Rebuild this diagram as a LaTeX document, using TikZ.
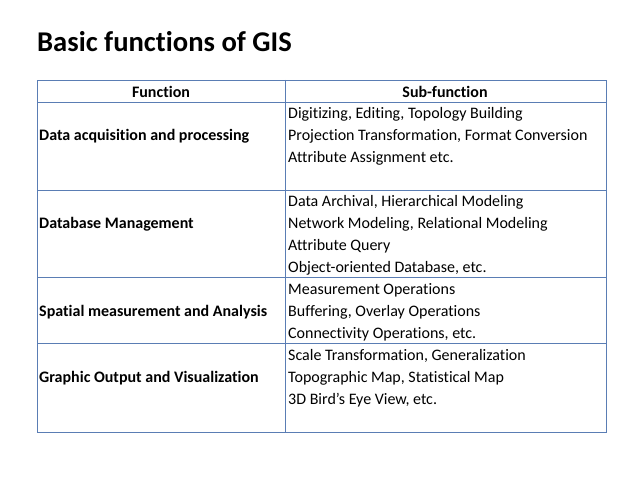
\documentclass[tikz,border=0pt]{standalone}
\usepackage{fontspec}
\setmainfont{Carlito}[Ligatures={NoCommon}]
\begin{document}
\begin{tikzpicture}[x=1pt,y=-1pt,
  cell/.style={anchor=west,inner sep=0pt,font=\fontsize{16}{18}\selectfont},
  fn/.style={cell,font=\fontsize{16}{18}\selectfont\bfseries},
  grid/.style={draw=tblue,line width=0.8pt}]
\definecolor{tblue}{RGB}{90,125,180}
\useasboundingbox (0,0) rectangle (638,478);
\node[anchor=west,inner sep=0pt,font=\fontsize{28.6}{32}\selectfont\bfseries] (title) at (37,42) {Basic functions of GIS};
\draw[grid] (37,80) rectangle (606,432);
\foreach \y in {102,190,277,343} \draw[grid] (37,\y) -- (606,\y);
\draw[grid] (285,80) -- (285,432);
\node[fn,anchor=center] (h1) at (161,92) {Function};
\node[fn,anchor=center] (h2) at (445,92) {Sub-function};
\node[fn] (f1) at (39,136) {Data acquisition and processing};
\node[fn] (f2) at (39,224) {Database Management};
\node[fn] (f3) at (39,312) {Spatial measurement and Analysis};
\node[fn] (f4) at (39,378) {Graphic Output and Visualization};
\node[cell] (s11) at (288,114) {Digitizing, Editing, Topology Building};
\node[cell] (s12) at (288,136) {Projection Transformation, Format Conversion};
\node[cell] (s13) at (288,158) {Attribute Assignment etc.};
\node[cell] (s21) at (288,202) {Data Archival, Hierarchical Modeling};
\node[cell] (s22) at (288,224) {Network Modeling, Relational Modeling};
\node[cell] (s23) at (288,246) {Attribute Query};
\node[cell] (s24) at (288,268) {Object-oriented Database, etc.};
\node[cell] (s31) at (288,290) {Measurement Operations};
\node[cell] (s32) at (288,312) {Buffering, Overlay Operations};
\node[cell] (s33) at (288,334) {Connectivity Operations, etc.};
\node[cell] (s41) at (288,356) {Scale Transformation, Generalization};
\node[cell] (s42) at (288,378) {Topographic Map, Statistical Map};
\node[cell] (s43) at (288,400) {3D Bird's Eye View, etc.};
\end{tikzpicture}
\end{document}
